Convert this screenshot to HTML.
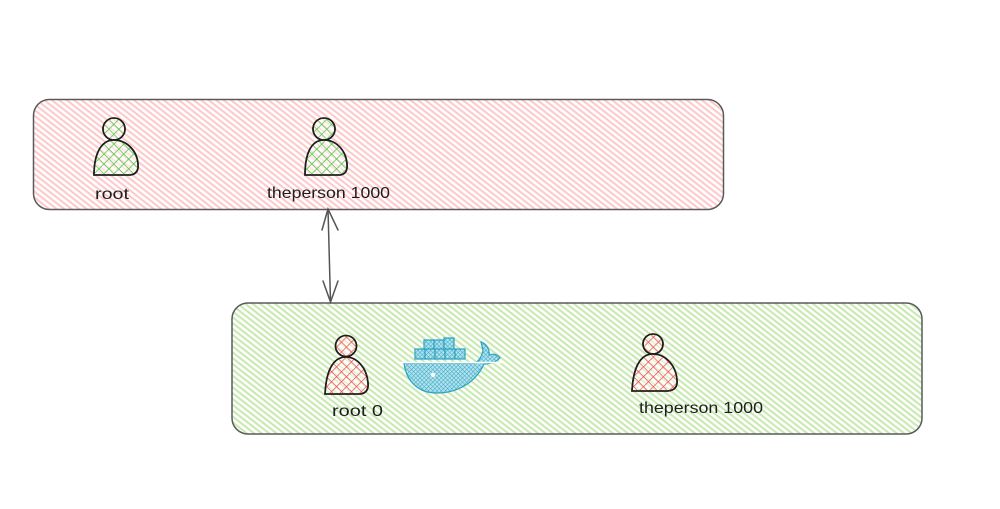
<!DOCTYPE html>
<html>
<head>
<meta charset="utf-8">
<style>
html,body{margin:0;padding:0;background:#fff;}
svg{display:block;}
text{font-family:"Liberation Sans",sans-serif;font-size:16px;fill:#1e1e1e;}
</style>
</head>
<body>
<svg width="1000" height="509" viewBox="0 0 1000 509" xmlns="http://www.w3.org/2000/svg">
<defs>
  <pattern id="pinkH" width="4.6" height="4.6" patternUnits="userSpaceOnUse" patternTransform="rotate(38)">
    <rect width="4.6" height="4.6" fill="#fff"/>
    <rect width="4.6" height="2" fill="#ffc8c8"/>
  </pattern>
  <pattern id="greenH" width="4.6" height="4.6" patternUnits="userSpaceOnUse" patternTransform="rotate(38)">
    <rect width="4.6" height="4.6" fill="#fff"/>
    <rect width="4.6" height="2" fill="#c6e9ad"/>
  </pattern>
  <pattern id="greenX" width="7" height="7" patternUnits="userSpaceOnUse" patternTransform="rotate(45)">
    <line x1="0" y1="0" x2="7" y2="0" stroke="#52c23e" stroke-width="1.5"/>
    <line x1="0" y1="0" x2="0" y2="7" stroke="#52c23e" stroke-width="1.5"/>
  </pattern>
  <pattern id="redX" width="7" height="7" patternUnits="userSpaceOnUse" patternTransform="rotate(45)">
    <line x1="0" y1="0" x2="7" y2="0" stroke="#f44e4e" stroke-width="1.5"/>
    <line x1="0" y1="0" x2="0" y2="7" stroke="#f44e4e" stroke-width="1.5"/>
  </pattern>
  <pattern id="tealX" width="3" height="3" patternUnits="userSpaceOnUse" patternTransform="rotate(45)">
    <rect width="3" height="3" fill="#b3e1ec"/>
    <line x1="0" y1="0" x2="3" y2="0" stroke="#2aa3c3" stroke-width="0.9"/>
    <line x1="0" y1="0" x2="0" y2="3" stroke="#2aa3c3" stroke-width="0.9"/>
  </pattern>
</defs>

<!-- top box -->
<rect x="33.5" y="99.5" width="690" height="110" rx="16" ry="16" fill="url(#pinkH)" stroke="#5a5a5a" stroke-width="1.5"/>
<!-- bottom box -->
<rect x="232" y="303" width="690" height="131" rx="16" ry="16" fill="url(#greenH)" stroke="#5a5a5a" stroke-width="1.5"/>

<!-- arrow -->
<g stroke="#555" stroke-width="1.5" fill="none" stroke-linecap="round">
  <line x1="328" y1="209" x2="330.5" y2="302"/>
  <path d="M322 230 L328 209 L338 230"/>
  <path d="M323 281 L330.5 302 L338 281"/>
</g>

<!-- person top root -->
<g stroke="#1e1e1e" stroke-width="1.6">
  <circle cx="114" cy="129" r="11" fill="#fff" fill-opacity="0.5"/>
  <circle cx="114" cy="129" r="11" fill="url(#greenX)"/>
  <path d="M94 175 L130 175 Q139 174 138 164 C137 150 126 140 114 140 C100 140 94 156 94 175 Z" fill="#fff" fill-opacity="0.5"/>
  <path d="M94 175 L130 175 Q139 174 138 164 C137 150 126 140 114 140 C100 140 94 156 94 175 Z" fill="url(#greenX)"/>
</g>
<text x="95" y="199" textLength="34" lengthAdjust="spacingAndGlyphs">root</text>

<!-- person top theperson -->
<g stroke="#1e1e1e" stroke-width="1.6">
  <circle cx="324" cy="129" r="11" fill="#fff" fill-opacity="0.5"/>
  <circle cx="324" cy="129" r="11" fill="url(#greenX)"/>
  <path d="M305 175 L340 175 Q348 174 347 164 C346 150 336 140 324 140 C310 140 305 156 305 175 Z" fill="#fff" fill-opacity="0.5"/>
  <path d="M305 175 L340 175 Q348 174 347 164 C346 150 336 140 324 140 C310 140 305 156 305 175 Z" fill="url(#greenX)"/>
</g>
<text x="267" y="198" textLength="123" lengthAdjust="spacingAndGlyphs">theperson 1000</text>

<!-- person bottom root 0 -->
<g stroke="#1e1e1e" stroke-width="1.6">
  <circle cx="346" cy="346" r="10.5" fill="#fff" fill-opacity="0.5"/>
  <circle cx="346" cy="346" r="10.5" fill="url(#redX)"/>
  <path d="M325 394 L360 394 Q369 393 368 383 C367 368 357 357 346 357 C332 357 326 373 325 394 Z" fill="#fff" fill-opacity="0.5"/>
  <path d="M325 394 L360 394 Q369 393 368 383 C367 368 357 357 346 357 C332 357 326 373 325 394 Z" fill="url(#redX)"/>
</g>
<text x="332" y="416" textLength="51" lengthAdjust="spacingAndGlyphs">root 0</text>

<!-- person bottom theperson -->
<g stroke="#1e1e1e" stroke-width="1.6">
  <circle cx="653" cy="344" r="10" fill="#fff" fill-opacity="0.5"/>
  <circle cx="653" cy="344" r="10" fill="url(#redX)"/>
  <path d="M632 391 L668 391 Q678 390 677 380 C676 365 665 354 653 354 C639 354 633 370 632 391 Z" fill="#fff" fill-opacity="0.5"/>
  <path d="M632 391 L668 391 Q678 390 677 380 C676 365 665 354 653 354 C639 354 633 370 632 391 Z" fill="url(#redX)"/>
</g>
<text x="639" y="413" textLength="124" lengthAdjust="spacingAndGlyphs">theperson 1000</text>

<!-- docker whale -->
<g stroke="#2aa3c3" stroke-width="1.2">
  <rect x="415" y="349" width="10" height="10" fill="url(#tealX)"/>
  <rect x="425" y="349" width="10" height="10" fill="url(#tealX)"/>
  <rect x="435" y="349" width="10" height="10" fill="url(#tealX)"/>
  <rect x="445" y="349" width="10" height="10" fill="url(#tealX)"/>
  <rect x="455" y="349" width="10" height="10" fill="url(#tealX)"/>
  <rect x="424" y="340" width="10" height="9" fill="url(#tealX)"/>
  <rect x="434" y="340" width="10" height="9" fill="url(#tealX)"/>
  <rect x="444" y="338" width="10" height="11" fill="url(#tealX)"/>
  <path d="M404 363 H474 C479 362 482 356 483 350 L481 342 C487 344 490 350 489 355 C494 353 498 355 500 358 C496 362 490 364 484 364 C476 382 458 393 437 393 C418 393 406 381 404 363 Z" fill="url(#tealX)"/>
</g>
<line x1="398" y1="362.5" x2="505" y2="362.5" stroke="#fff" stroke-width="1.6"/>
<circle cx="433" cy="375" r="2.2" fill="#fff"/>
</svg>
</body>
</html>
